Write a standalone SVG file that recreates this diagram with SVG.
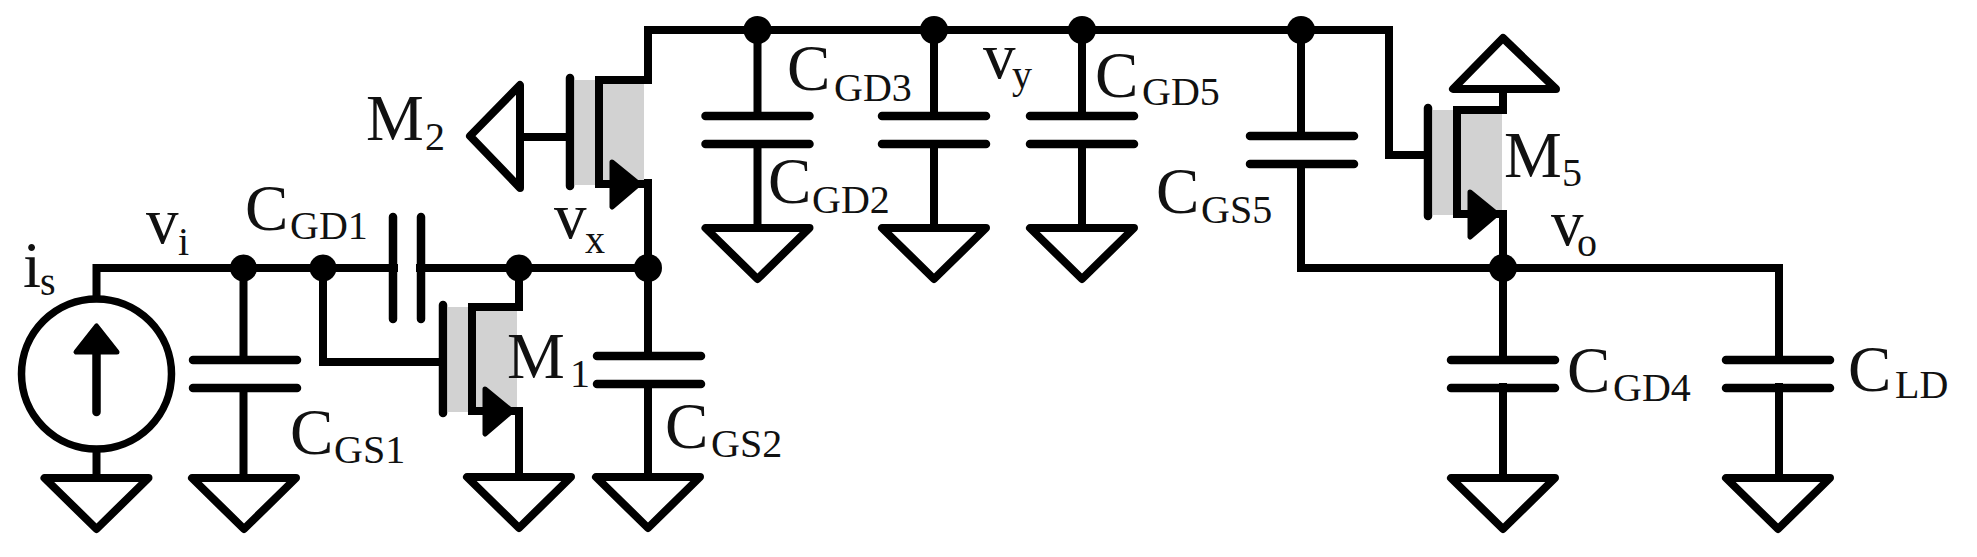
<svg xmlns="http://www.w3.org/2000/svg" width="1977" height="557" viewBox="0 0 1977 557">
<style>
.w{fill:none;stroke:#000;stroke-width:8;stroke-linejoin:miter;stroke-linecap:square}
.p{fill:none;stroke:#000;stroke-width:8.500;stroke-linecap:round}
.g{fill:none;stroke:#000;stroke-width:8;stroke-linejoin:round}
.d{fill:#000}
.a{fill:#000;stroke:#000;stroke-width:5;stroke-linejoin:round}
.s{fill:#d2d2d2}
text{font-family:"Liberation Serif","Times New Roman",serif;font-size:65px;fill:#111}
.u{font-size:40px}
</style>
<defs>
<polygon id="gnd" class="g" points="-52,0 52,0 0,51"/>
<g id="capH"><line class="p" x1="-52" y1="0" x2="52" y2="0"/><line class="p" x1="-52" y1="28" x2="52" y2="28"/></g>
<g id="mos">
<rect class="s" x="5" y="2" width="69" height="105"/>
<line class="p" x1="0" y1="0" x2="0" y2="108"/>
<path class="w" d="M75,2H29V106H75"/>
<polygon class="a" points="42,84 69,106 42,129"/>
</g>
</defs>
<g id="connectors">
<path class="w" d="M96.500,297V268H648"/>
<path class="w" d="M323,268V362H443"/>
<path class="w" d="M243.500,268V360M243.500,388V478"/>
<path class="w" d="M96.500,452V478"/>
<path class="w" d="M519,268V307M519,411V477"/>
<path class="w" d="M648,183V356M648,384V477"/>
<path class="w" d="M648,80V30H1389V155H1428"/>
<path class="w" d="M757.500,30V116M757.500,144V228"/>
<path class="w" d="M934,30V116M934,144V228"/>
<path class="w" d="M1082,30V116M1082,144V228"/>
<path class="w" d="M1301,30V136M1301,164V268H1779V360M1779,387V478"/>
<path class="w" d="M1503,214V360M1503,387V478"/>
<path class="w" d="M520,137H570"/>
<path class="w" d="M1503,89V110"/>
<g id="junctions">
<circle class="d" cx="243.500" cy="268" r="13.500"/>
<circle class="d" cx="323" cy="268" r="13.500"/>
<circle class="d" cx="519" cy="268" r="13.500"/>
<circle class="d" cx="648" cy="268" r="14"/>
<circle class="d" cx="757.500" cy="30" r="14"/>
<circle class="d" cx="934" cy="30" r="14"/>
<circle class="d" cx="1082" cy="30" r="14"/>
<circle class="d" cx="1301" cy="30" r="14"/>
<circle class="d" cx="1503" cy="268" r="14"/>
</g>
</g>
<g id="is">
<circle cx="96.500" cy="374" r="75" fill="none" stroke="#000" stroke-width="7.500"/>
<line class="p" x1="96.500" y1="412" x2="96.500" y2="350"/>
<polygon class="a" points="96.500,326 76,352 117,352"/>
<use href="#gnd" x="96.500" y="478"/>
<text x="23" y="287">i<tspan class="u" x="40" y="295">s</tspan></text>
</g>
<g id="vi"><text x="146" y="243">v<tspan class="u" x="178" y="255">i</tspan></text></g>
<g id="vx"><text x="554" y="238">v<tspan class="u" x="585" y="253">x</tspan></text></g>
<g id="vy"><text x="983" y="78">v<tspan class="u" x="1012" y="88">y</tspan></text></g>
<g id="vo"><text x="1551" y="245">v<tspan class="u" x="1577" y="256">o</tspan></text></g>
<g id="CGD1">
<rect x="398" y="262" width="18" height="12" fill="#fff"/>
<line class="p" x1="393" y1="217" x2="393" y2="319"/>
<line class="p" x1="421" y1="217" x2="421" y2="319"/>
<text x="245" y="230">C<tspan class="u" x="290" y="239">GD1</tspan></text>
</g>
<g id="CGS1">
<use href="#capH" x="245" y="360"/>
<use href="#gnd" x="244" y="478"/>
<text x="290" y="454">C<tspan class="u" x="334" y="463">GS1</tspan></text>
</g>
<g id="M1">
<use href="#mos" x="443" y="305"/>
<use href="#gnd" x="519" y="477"/>
<text x="507" y="378">M<tspan class="u" x="570" y="387">1</tspan></text>
</g>
<g id="CGS2">
<use href="#capH" x="649" y="356"/>
<use href="#gnd" x="648" y="477"/>
<text x="665" y="448">C<tspan class="u" x="711" y="457">GS2</tspan></text>
</g>
<g id="M2">
<use href="#mos" x="570" y="78"/>
<polygon class="g" points="520,85 520,188 470,136"/>
<text x="366" y="140">M<tspan class="u" x="425" y="150">2</tspan></text>
</g>
<g id="CGD2">
<use href="#capH" x="757.500" y="116"/>
<use href="#gnd" x="757.500" y="228"/>
<text x="768" y="203">C<tspan class="u" x="812" y="213">GD2</tspan></text>
</g>
<g id="CGD3">
<use href="#capH" x="934" y="116"/>
<use href="#gnd" x="934" y="228"/>
<text x="787" y="90">C<tspan class="u" x="834" y="101">GD3</tspan></text>
</g>
<g id="CGD5">
<use href="#capH" x="1082" y="116"/>
<use href="#gnd" x="1082" y="228"/>
<text x="1095" y="97">C<tspan class="u" x="1142" y="105">GD5</tspan></text>
</g>
<g id="CGS5">
<use href="#capH" x="1302" y="136"/>
<text x="1156" y="213">C<tspan class="u" x="1201" y="223">GS5</tspan></text>
</g>
<g id="M5">
<use href="#mos" x="1428" y="108"/>
<polygon class="g" points="1453,89 1556,89 1503,38"/>
<text x="1504" y="177">M<tspan class="u" x="1562" y="186">5</tspan></text>
</g>
<g id="CGD4">
<use href="#capH" x="1503" y="360"/>
<use href="#gnd" x="1503" y="478"/>
<text x="1567" y="392">C<tspan class="u" x="1613" y="401">GD4</tspan></text>
</g>
<g id="CLD">
<use href="#capH" x="1778" y="360"/>
<use href="#gnd" x="1778" y="478"/>
<text x="1848" y="391">C<tspan class="u" x="1895" y="398">LD</tspan></text>
</g>
</svg>
